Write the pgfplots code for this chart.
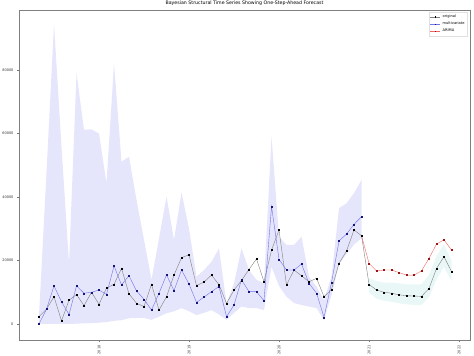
\documentclass[border=0pt]{standalone}
\usepackage{fontspec}
\setmainfont{DejaVu Sans}
\usepackage{pgfplots}
\usepackage{pgfplotstable}
\pgfplotsset{compat=1.18}
\usepgfplotslibrary{fillbetween}
\definecolor{lav}{RGB}{229,229,251}
\definecolor{tealband}{RGB}{234,247,247}
\definecolor{mline}{RGB}{115,115,235}
\definecolor{mmark}{RGB}{20,20,120}
\definecolor{aline}{RGB}{245,100,100}
\definecolor{amark}{RGB}{150,20,20}

\pgfplotstableread{
x orig multi lo up
2017.333 2300 0 0 2500
2017.417 4700 4700 0 48000
2017.500 8600 12000 0 94500
2017.583 1000 7000 0 56000
2017.667 7500 3000 0 19000
2017.750 9300 12000 100 79000
2017.833 5800 9700 200 61200
2017.917 10000 10000 300 61300
2018.000 6200 10700 400 60000
2018.083 11300 9300 600 44300
2018.167 12500 18300 1000 82000
2018.250 17500 12300 1200 51100
2018.333 9500 15200 1800 52700
2018.417 6500 10400 1900 39000
2018.500 5500 7800 1900 26500
2018.583 12500 4400 1300 13900
2018.667 4400 9700 2300 27000
2018.750 8600 15500 3400 40100
2018.833 15400 10500 4000 26500
2018.917 20900 17000 5000 41400
2019.000 21800 12600 4000 30000
2019.083 12100 6800 2800 14900
2019.167 13200 8500 3500 17000
2019.250 15400 10200 4400 19600
2019.333 12400 11800 3000 23800
2019.417 6500 2300 1300 6500
2019.500 10700 6000 3500 12800
2019.583 13700 13900 5500 23800
2019.667 17200 10200 5000 17000
2019.750 20500 10200 5000 13900
2019.833 13300 7300 4400 12900
2019.917 23300 37000 18000 59000
2020.000 29600 20400 12000 27500
2020.083 12300 17000 8600 24900
2020.167 17000 17000 6600 24900
2020.250 15200 18900 6000 27500
2020.333 13300 12800 5500 14900
2020.417 14400 9700 5000 11700
2020.500 8600 2100 1300 7500
2020.583 10900 13000 9000 14900
2020.667 19100 26200 19000 36500
2020.750 23000 28300 22000 38000
2020.833 29600 31400 25000 41200
2020.917 27800 33800 27000 45400
}\mainT

\pgfplotstableread{
x orig arima
2020.917 27800 27800
2021.000 12500 19100
2021.083 10700 16700
2021.167 10000 17000
2021.250 9700 17000
2021.333 9200 16200
2021.417 8900 15400
2021.500 8800 15400
2021.583 8700 16700
2021.667 11200 20700
2021.750 17500 25200
2021.833 21200 26500
2021.917 16500 23300
}\fcT

\pgfplotstableread{
x lo up
2021.000 10000 14500
2021.083 8000 13500
2021.167 7300 13000
2021.250 7000 13000
2021.333 6500 12800
2021.417 6200 12500
2021.500 6000 12500
2021.583 6000 12500
2021.667 8500 15500
2021.750 14000 21500
2021.833 18000 25000
2021.917 13500 20000
}\bandT

\begin{document}
\begin{tikzpicture}
\begin{axis}[
  at={(19pt,16pt)}, anchor=south west,
  scale only axis, width=451pt, height=330pt,
  xmin=2017.111, xmax=2022.122,
  ymin=-5040, ymax=98900,
  xtick={2018,2019,2020,2021,2022},
  xticklabels={2018,2019,2020,2021,2022},
  ytick={0,20000,40000,60000,80000},
  scaled y ticks=false, scaled x ticks=false,
  /pgf/number format/1000 sep={},
  /pgf/number format/assume math mode=true,
  tick label style={font=\fontsize{3.5}{4}\selectfont, text=black!80},
  x tick label style={rotate=90, anchor=east},
  tick align=outside, tickpos=left,
  major tick length=2pt,
  axis line style={black!50, line width=0.4pt},
  every tick/.style={black!55, line width=0.3pt},
  title={Bayesian Structural Time Series Showing One-Step-Ahead Forecast},
  title style={font=\fontsize{4.7}{5.5}\selectfont, yshift=-5.5pt},
  legend style={at={(0.995,0.995)}, anchor=north east, font=\fontsize{3.6}{4.2}\selectfont,
    draw=black!12, fill=white, inner sep=1pt, row sep=-1pt,
    legend cell align=left},
  legend image post style={scale=0.6},
]
\addplot[name path=up, draw=none, forget plot] table[x=x,y=up]{\mainT};
\addplot[name path=lo, draw=none, forget plot] table[x=x,y=lo]{\mainT};
\addplot[lav, forget plot] fill between[of=up and lo];
\addplot[name path=up2, draw=none, forget plot] table[x=x,y=up]{\bandT};
\addplot[name path=lo2, draw=none, forget plot] table[x=x,y=lo]{\bandT};
\addplot[tealband, forget plot] fill between[of=up2 and lo2];

\addplot[black!50, line width=0.4pt, mark=square*, mark size=0.5pt,
  mark options={black, draw=black}] table[x=x,y=orig]{\mainT};
\addlegendentry{original}
\addplot[mline, line width=0.4pt, mark=square*, mark size=0.5pt,
  mark options={mmark, draw=mmark}] table[x=x,y=multi]{\mainT};
\addlegendentry{multivariate}
\addplot[aline, line width=0.4pt, mark=square*, mark size=0.5pt,
  mark options={amark, draw=amark}] table[x=x,y=arima]{\fcT};
\addlegendentry{ARIMA}
\addplot[black!50, line width=0.4pt, mark=square*, mark size=0.5pt,
  mark options={black, draw=black}, forget plot] table[x=x,y=orig]{\fcT};
\end{axis}
\pgfresetboundingbox
\useasboundingbox (0,0) rectangle (474pt,356pt);
\end{tikzpicture}
\end{document}
